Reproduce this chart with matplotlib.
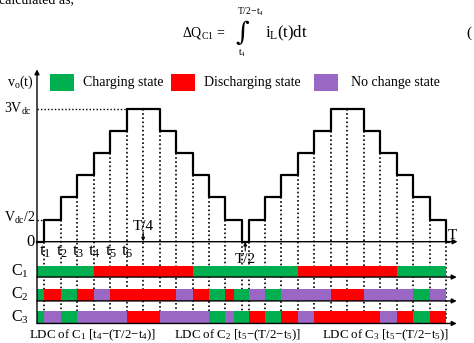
import numpy as np
import matplotlib
matplotlib.use("Agg")
import matplotlib.pyplot as plt
from matplotlib.patches import Rectangle

plt.rcParams['font.family'] = ['Liberation Serif', 'DejaVu Serif']
plt.rcParams['mathtext.fontset'] = 'custom'
plt.rcParams['mathtext.rm'] = 'Liberation Serif'
plt.rcParams['mathtext.it'] = 'Liberation Serif:italic'
plt.rcParams['mathtext.default'] = 'regular'

# ---- data (time in switching-step units, voltage in Vdc/2 units) ----
wave_t = [-0.25, 0.2, 1.2, 2.2, 3.2, 4.2, 5.2, 7.2, 8.2, 9.2, 10.2, 11.2, 12.2,
          12.6, 13.6, 14.6, 15.6, 16.6, 17.6, 19.6, 20.6, 21.6, 22.6, 23.6, 24.6, 24.8]
wave_v = [0, 1, 2, 3, 4, 5, 6, 5, 4, 3, 2, 1, 0,
          1, 2, 3, 4, 5, 6, 5, 4, 3, 2, 1, 0, 0]
quarter_marks = [6.2, 18.6]   # T/4 and 3T/4 (peak centres)
t_labels = ['t$_1$', 't$_2$', 't$_3$', 't$_4$', 't$_5$', 't$_6$']
t_label_pos = [0.2, 1.2, 2.2, 3.2, 4.2, 5.2]
T_quarter = 6.2
T_half = 12.4
T_end = 24.8

C1_edges = [-0.25, 3.2, 9.2, 15.6, 21.6, 24.6]
C1_states = ['c', 'd', 'c', 'd', 'c']
C2_edges = [-0.25, 0.2, 1.2, 2.2, 3.2, 4.2, 8.2, 9.2, 10.2, 11.2, 11.7, 12.6,
            13.6, 14.6, 17.6, 19.6, 22.6, 23.6, 24.6]
C2_states = ['c', 'd', 'c', 'd', 'n', 'd', 'n', 'd', 'c', 'd', 'c', 'n',
             'c', 'n', 'd', 'n', 'c', 'n']
C3_edges = [-0.25, 0.2, 1.2, 2.2, 5.2, 7.2, 10.2, 11.2, 11.7, 12.6, 13.6, 14.6,
            15.6, 16.6, 20.6, 21.6, 22.6, 23.6, 24.6]
C3_states = ['c', 'n', 'c', 'n', 'd', 'n', 'c', 'n', 'c', 'd', 'c', 'd',
             'n', 'd', 'n', 'd', 'c', 'd']
row_names = ['C$_1$', 'C$_2$', 'C$_3$']
ldc_labels = ['LDC of C$_1$ [t$_4$\u2212(T/2\u2212t$_4$)]',
              'LDC of C$_2$ [t$_5$\u2212(T/2\u2212t$_5$)]',
              'LDC of C$_3$ [t$_5$\u2212(T/2\u2212t$_5$)]']
state_names = {'c': 'Charging state', 'd': 'Discharging state', 'n': 'No change state'}
state_colors = {'c': '#00B050', 'd': '#FF0000', 'n': '#9B67C4'}

# ---- layout ----
fig = plt.figure(figsize=(4.74, 3.43), dpi=100)
ax = fig.add_axes([0, 0, 1, 1])
ax.set_xlim(-2.498, 26.30)
ax.set_ylim(-4.584, 10.937)
ax.axis('off')

row_bottoms = [-1.60, -2.68, -3.70]
row_heights = [0.50, 0.56, 0.58]
axis_x0 = -0.25
arrow_x = 25.30

# dotted grid lines
wt = np.array(wave_t)
wv = np.array(wave_v)
grid = sorted(set(wave_t[1:-1]) | set(quarter_marks))
for g in grid:
    left = wv[np.searchsorted(wt, g, side='left') - 1]
    right = wv[np.searchsorted(wt, g, side='right') - 1]
    top = min(left, right)
    ax.plot([g, g], [top, row_bottoms[2] + 0.1], ls=(0, (1, 1.5)), color='black',
            lw=1.2, zorder=1)
# horizontal dotted reference levels
ax.plot([axis_x0, wave_t[6]], [6, 6], ls=(0, (1, 1.5)), color='black', lw=1.0, zorder=1)
ax.plot([axis_x0, wave_t[1]], [1, 1], ls=(0, (1, 1.5)), color='black', lw=1.0, zorder=1)

# waveform
ax.step(wave_t, wave_v, where='post', color='black', lw=1.6, zorder=4)

# axes arrows
arr = dict(arrowstyle='-|>', color='black', lw=1.0, mutation_scale=7, shrinkA=0, shrinkB=0)
ax.annotate('', xy=(arrow_x, 0), xytext=(axis_x0, 0), arrowprops=arr, zorder=5)
ax.annotate('', xy=(axis_x0, 7.8), xytext=(axis_x0, row_bottoms[2]), arrowprops=arr, zorder=5)

# capacitor state bars
for edges, states, yb, h in zip([C1_edges, C2_edges, C3_edges],
                                [C1_states, C2_states, C3_states],
                                row_bottoms, row_heights):
    segs = [(edges[i], edges[i + 1] - edges[i]) for i in range(len(states))]
    ax.broken_barh(segs, (yb, h), facecolors=[state_colors[s] for s in states],
                   edgecolor='none', zorder=2)
    ax.annotate('', xy=(arrow_x - 0.05, yb), xytext=(axis_x0, yb), arrowprops=arr, zorder=3)

# labels
fs = 10
ax.text(-1.28, 7.23, 'v$_o$(t)', fontsize=fs, ha='center', va='center')
ax.text(-1.40, 6.0, '3V$_{dc}$', fontsize=fs, ha='center', va='center')
ax.text(-1.30, 1.07, 'V$_{dc}$/2', fontsize=fs, ha='center', va='center')
ax.text(-0.62, 0.0, '0', fontsize=fs + 2, ha='center', va='center')
for lab, x in zip(t_labels, t_label_pos):
    ax.text(x + 0.05, -0.45, lab, fontsize=fs + 2.5, ha='center', va='center')
ax.text(T_quarter, 0.70, 'T/4', fontsize=fs + 1, ha='center', va='center')
ax.annotate('', xy=(T_quarter, 0.02), xytext=(T_quarter, 0.42),
            arrowprops=dict(arrowstyle='-|>', color='black', lw=0.8, mutation_scale=5,
                            shrinkA=0, shrinkB=0), zorder=5)
ax.text(T_half, -0.80, 'T/2', fontsize=fs + 1, ha='center', va='center')
ax.annotate('', xy=(T_half, -0.01), xytext=(T_half, -0.42),
            arrowprops=dict(arrowstyle='-|>', color='black', lw=0.8, mutation_scale=5,
                            shrinkA=0, shrinkB=0), zorder=5)
ax.text(T_end + 0.2, 0.3, 'T', fontsize=fs + 1, ha='center', va='center')
for name, yb, h in zip(row_names, row_bottoms, row_heights):
    ax.text(-1.28, yb + h / 2, name, fontsize=fs + 1.5, ha='center', va='center')
for lab, x in zip(ldc_labels, [3.15, 11.96, 20.95]):
    ax.text(x, -4.22, lab, fontsize=9.3, ha='center', va='center')

# legend
leg_x = {'c': (0.54, 2.54), 'd': (7.89, 9.90), 'n': (16.58, 18.83)}
for k in ['c', 'd', 'n']:
    px, tx = leg_x[k]
    ax.add_patch(Rectangle((px, 6.83), 1.47, 0.76, facecolor=state_colors[k],
                           edgecolor='none'))
    ax.text(tx, 7.22, state_names[k], fontsize=fs, ha='left', va='center')

# equation above
ax.text(-2.55, 10.80, 'calculated as,', fontsize=fs, ha='left', va='baseline')
ax.text(9.9, 9.44, '\u0394Q$_{C1}$ =', fontsize=fs, ha='center', va='center')
ax.text(12.2, 9.48, '\u222b', fontsize=fs + 9, ha='center', va='center',
        family=['DejaVu Serif'])
ax.text(12.7, 10.42, 'T/2\u2212t$_4$', fontsize=fs - 3, ha='center', va='center')
ax.text(12.2, 8.52, 't$_4$', fontsize=fs - 3, ha='center', va='center')
ax.text(14.9, 9.44, 'i$_L$(t)dt', fontsize=fs + 2, ha='center', va='center')
ax.text(26.0, 9.44, '(', fontsize=fs + 1, ha='center', va='center')

fig.savefig('out.png', dpi=100)
